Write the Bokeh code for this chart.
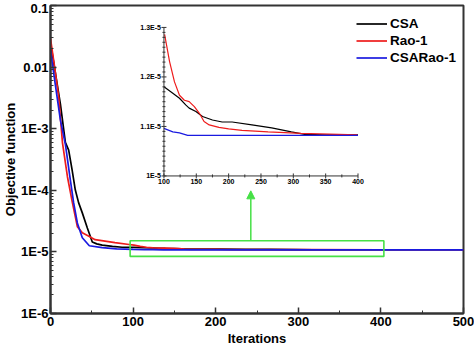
import numpy as np
from bokeh.plotting import figure
from bokeh.models import (Range1d, LinearScale, FixedTicker, SingleIntervalTicker,
                          CustomJSTickFormatter, Legend, LegendItem, BoxAnnotation,
                          Arrow, NormalHead)
from bokeh.core.properties import value
from bokeh.embed import file_html
from bokeh.resources import INLINE

# ---------------- data ----------------
csa_iter = [0, 6, 12, 18, 22, 26, 30, 34, 38.5, 44.6, 50.6, 56, 62.6, 75, 86.7, 100,
            113.7, 124, 134, 139, 149.4, 159.6, 175, 190, 205.4, 236, 266.5, 297,
            317.5, 348, 400, 500]
csa_val = [2.5e-2, 7.9e-3, 2.5e-3, 6.0e-4, 4.5e-4, 2.2e-4, 1.02e-4, 6.3e-5, 4.3e-5,
           2.45e-5, 1.45e-5, 1.35e-5, 1.29e-5, 1.23e-5, 1.19e-5, 1.180e-5,
           1.167e-5, 1.157e-5, 1.143e-5, 1.137e-5, 1.130e-5, 1.120e-5, 1.113e-5,
           1.109e-5, 1.109e-5, 1.103e-5, 1.097e-5, 1.089e-5, 1.084e-5, 1.083e-5,
           1.083e-5, 1.083e-5]

rao_iter = [0, 5, 10, 14.5, 20.5, 26.5, 32.5, 38.5, 47, 54, 78, 95, 101, 108.7, 116.3,
            124, 131.6, 139, 147, 154.5, 162, 170, 185, 200, 220.7, 261, 312, 399, 500]
rao_val = [2.9e-2, 1.0e-2, 3.2e-3, 5.9e-4, 1.66e-4, 6.3e-5, 2.57e-5, 2.04e-5, 1.78e-5,
           1.58e-5, 1.41e-5, 1.32e-5, 1.286e-5, 1.231e-5, 1.190e-5, 1.163e-5, 1.153e-5,
           1.150e-5, 1.140e-5, 1.127e-5, 1.110e-5, 1.103e-5, 1.098e-5, 1.095e-5,
           1.092e-5, 1.089e-5, 1.086e-5, 1.083e-5, 1.083e-5]

csarao_iter = [0, 6, 12, 18, 24, 28, 32.5, 38.5, 47, 62.6, 80, 100, 113.7, 124, 136.7,
               400, 500]
csarao_val = [1.87e-2, 5.0e-3, 1.38e-3, 5.6e-4, 1.48e-4, 6.3e-5, 2.95e-5, 1.70e-5,
              1.26e-5, 1.175e-5, 1.12e-5, 1.096e-5, 1.089e-5, 1.087e-5, 1.082e-5,
              1.082e-5, 1.082e-5]

series_names = ["CSA", "Rao-1", "CSARao-1"]
series_colors = ["#000000", "#ee1c1c", "#1a1ae0"]

main_y_ticks = [1e-6, 1e-5, 1e-4, 1e-3, 1e-2, 1e-1]
inset_x_ticks = [100, 150, 200, 250, 300, 350, 400]
inset_x_labels = ["100", "150", "200", "250", "300", "350", "400"]
inset_y_ticks = [1.0e-5, 1.1e-5, 1.2e-5, 1.3e-5]
inset_y_labels = ["1E-5", "1.1E-5", "1.2E-5", "1.3E-5"]

FONT = "Liberation Sans"
AX = "#333333"
GREEN = "#46e046"

# ---------------- figure ----------------
p = figure(width=474, height=348, x_range=Range1d(0, 500), y_range=Range1d(1e-6, 0.1),
           y_axis_type="log", output_backend="svg", toolbar_location=None,
           min_border_left=48, min_border_right=11, min_border_top=5, min_border_bottom=34,
           background_fill_color="white", border_fill_color="white")
p.xgrid.visible = False
p.ygrid.visible = False
p.outline_line_color = AX
p.outline_line_width = 2
p.outline_line_alpha = 1

# inset coordinate system (placed inside frame via extra ranges)
FW, FH = 415.0, 309.0            # approx frame size in px
ix0, ix1 = 114.0, 309.0          # inset x px (from frame left) for 100 and 400
iy0, iy1 = 138.0, 287.0          # inset y px (from frame bottom) for 1.0e-5 and 1.3e-5
sx = 300.0 / (ix1 - ix0)
xs = 100 - ix0 * sx
sy = 0.3e-5 / (iy1 - iy0)
ys = 1.0e-5 - iy0 * sy
p.extra_x_ranges = {"inset": Range1d(xs, xs + FW * sx)}
p.extra_y_ranges = {"inset": Range1d(ys, ys + FH * sy)}
p.extra_x_scales = {"inset": LinearScale()}
p.extra_y_scales = {"inset": LinearScale()}

# axes styling
for ax in (p.xaxis[0], p.yaxis[0]):
    ax.axis_line_color = AX
    ax.axis_line_width = 2
    ax.major_tick_line_color = AX
    ax.minor_tick_line_color = AX
    ax.major_tick_line_width = 1.5
    ax.minor_tick_line_width = 1
    ax.major_tick_in = 6
    ax.major_tick_out = 0
    ax.minor_tick_in = 3
    ax.minor_tick_out = 0
    ax.major_label_text_font = FONT
    ax.major_label_text_font_style = "bold"
    ax.major_label_text_font_size = "13px"
    ax.major_label_text_color = "black"
    ax.axis_label_text_font = FONT
    ax.axis_label_text_font_style = "bold"
    ax.axis_label_text_font_size = "13px"
    ax.axis_label_text_color = "black"

p.xaxis.ticker = SingleIntervalTicker(interval=100, num_minor_ticks=2)
p.xaxis.axis_label = "Iterations"
p.xaxis.major_label_standoff = 3
p.xaxis.axis_label_standoff = 2

minor = [k * 10.0 ** e for e in range(-6, -1) for k in range(2, 10)]
p.yaxis.ticker = FixedTicker(ticks=main_y_ticks, minor_ticks=minor)
p.yaxis.formatter = CustomJSTickFormatter(code="""
const e = Math.round(Math.log10(tick));
if (e == -1) return "0.1";
if (e == -2) return "0.01";
return "1E" + e;
""")
p.yaxis.axis_label = "Objective function"
p.yaxis.major_label_standoff = 2
p.yaxis.axis_label_standoff = 0

# ---------------- main lines ----------------
all_x = [csa_iter, rao_iter, csarao_iter]
all_y = [csa_val, rao_val, csarao_val]
renderers = []
for xv, yv, c in zip(all_x, all_y, series_colors):
    r = p.line(xv, yv, line_color=c, line_width=1.7)
    renderers.append(r)

# zoom box and arrow
p.add_layout(BoxAnnotation(left=96.4, right=403.6, bottom=8.45e-6, top=1.52e-5,
                           fill_alpha=0, line_color=GREEN, line_alpha=1, line_width=1.6))
p.add_layout(Arrow(x_start=242.5, y_start=1.52e-5, x_end=242.5, y_end=9.8e-5,
                   line_color=GREEN, line_width=1.5,
                   end=NormalHead(size=8, fill_color=GREEN, line_color=GREEN)))

# ---------------- inset ----------------
kw = dict(x_range_name="inset", y_range_name="inset")
for xv, yv, c in zip(all_x, all_y, series_colors):
    xa = np.array(xv, dtype=float)
    ya = np.array(yv, dtype=float)
    m = (xa >= 100) & (xa <= 400)
    p.line(xa[m], ya[m], line_color=c, line_width=1.2, **kw)

p.segment(x0=[100, 100], y0=[1.0e-5, 1.0e-5], x1=[100, 400], y1=[1.3e-5, 1.0e-5],
          line_color=AX, line_width=1, **kw)
# inset ticks
p.scatter(x=inset_x_ticks, y=[1.0e-5] * len(inset_x_ticks), marker="dash",
          angle=np.pi / 2, size=5, line_color=AX, **kw)
xminor = [t + 25 for t in inset_x_ticks[:-1]]
p.scatter(x=xminor, y=[1.0e-5] * len(xminor), marker="dash",
          angle=np.pi / 2, size=3, line_color=AX, **kw)
p.scatter(x=[100] * len(inset_y_ticks), y=inset_y_ticks, marker="dash",
          size=5, line_color=AX, **kw)
yminor = [1.0e-5 + k * 0.01e-5 for k in range(1, 30) if k % 10 != 0]
p.scatter(x=[100] * len(yminor), y=yminor, marker="dash", size=3, line_color=AX, **kw)

p.text(x=inset_x_ticks, y=[1.0e-5] * len(inset_x_ticks), text=inset_x_labels,
       y_offset=3, text_align="center", text_baseline="top",
       text_font=value(FONT), text_font_style="bold", text_font_size=value("7px"),
       text_color="black", **kw)
p.text(x=[100] * len(inset_y_ticks), y=inset_y_ticks, text=inset_y_labels,
       x_offset=-3, text_align="right", text_baseline="middle",
       text_font=value(FONT), text_font_style="bold", text_font_size=value("7px"),
       text_color="black", **kw)

# ---------------- legend ----------------
legend = Legend(items=[LegendItem(label=n, renderers=[r]) for n, r in zip(series_names, renderers)],
                location=(306, 247), orientation="vertical",
                label_text_font=FONT, label_text_font_style="bold",
                label_text_font_size="13.5px", label_text_color="black",
                glyph_width=31, glyph_height=17, label_height=17, spacing=0,
                padding=0, margin=0, label_standoff=3,
                border_line_alpha=0, background_fill_alpha=0)
p.add_layout(legend)

open("out.html", "w").write(file_html(p, INLINE))
